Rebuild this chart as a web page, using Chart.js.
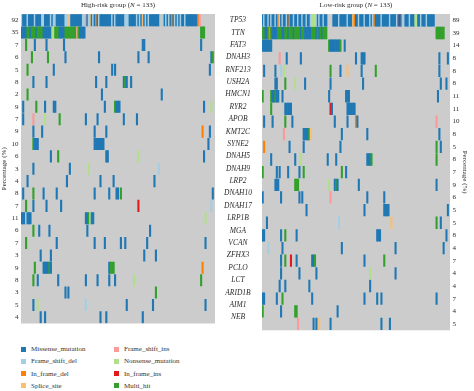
<!DOCTYPE html>
<html>
<head>
<meta charset="utf-8">
<script src="https://cdn.jsdelivr.net/npm/chart.js@4.4.0/dist/chart.umd.min.js"></script>
<style>
  body { margin: 0; background: #fff; }
  #wrap { position: relative; width: 474px; height: 391px; overflow: hidden; }
  #highChart { position: absolute; left: 0; top: 0; }
  #lowChart { position: absolute; left: 262px; top: 0; }
  #legend { position: absolute; left: 0; top: 343px; width: 260px; height: 48px; }
  .item { position: absolute; font: 7px 'Liberation Serif', serif; color: #333; white-space: nowrap; line-height: 8px; }
  .item span { position: absolute; top: 1.5px; width: 5px; height: 5px; }
</style>
</head>
<body>
<div id="wrap">
  <canvas id="highChart" width="262" height="337"></canvas>
  <canvas id="lowChart" width="212" height="337"></canvas>
  <div id="legend"></div>
</div>
<script>
// genes in oncoplot order (top to bottom)
const genes = ['TP53', 'TTN', 'FAT3', 'DNAH3', 'RNF213', 'USH2A', 'HMCN1', 'RYR2', 'APOB', 'KMT2C',
  'SYNE2', 'DNAH5', 'DNAH9', 'LRP2', 'DNAH10', 'DNAH17', 'LRP1B', 'MGA', 'VCAN', 'ZFHX3',
  'PCLO', 'LCT', 'ARID1B', 'AIM1', 'NEB'];

// mutation frequency (%) per gene
const highPct = [92, 35, 7, 6, 5, 8, 2, 9, 7, 9, 10, 6, 3, 4, 8, 7, 11, 6, 7, 3, 9, 8, 3, 5, 4];
const lowPct = [89, 39, 14, 8, 8, 8, 11, 11, 10, 8, 5, 8, 7, 9, 6, 5, 5, 8, 4, 7, 4, 4, 7, 4, 5];

const sampleCount = 133;

// mutation classes (code letter -> name / colour)
const typeCodes = ['M', 'D', 'O', 'S', 'I', 'N', 'R', 'H'];
const typeNames = ['Missense_mutation', 'Frame_shift_del', 'In_frame_del', 'Splice_site',
  'Frame_shift_ins', 'Nonsense_mutation', 'In_frame_ins', 'Multi_hit'];
const typeColors = ['#1f78b4', '#a6cee3', '#ff7f00', '#fdbf6f', '#fb9a99', '#b2df8a', '#e31a1c', '#33a02c'];

// per gene: runs of [first sample index, mutation codes for consecutive samples]
const highRisk = [
  [[0, 'DMM'], [3, 'MDMMMMDMMMM'], [14, 'DD'], [16, 'MMMMD'], [21, 'MDDM'], [25, 'MMMMM'], [30, 'DDSDM'],
   [35, 'MMMMMMMD'], [43, 'DIMDSMDMOMD'], [54, 'MMMMMMMM'], [62, 'DMDM'], [66, 'MMMMMD'], [72, 'DDM'],
   [75, 'MMMMD'], [80, 'MDMSMDMDM'], [89, 'MMMMMMD'], [96, 'SDMD'], [100, 'MDMOMD'], [106, 'MDMDMMDMM'],
   [115, 'MMMM'], [119, 'MMOI']],
  [[0, 'MMMM'], [4, 'HHMHHHMH'], [12, 'HHH'], [15, 'MMMMMM'], [21, 'NN'], [23, 'HHH'], [26, 'MMMM'],
   [30, 'HHHHHHHH'], [38, 'IH'], [40, 'MMMM'], [123, 'HHH']],
  [[3, 'H'], [9, 'M'], [17, 'M'], [29, 'M'], [83, 'MM'], [123, 'M']],
  [[7, 'H'], [18, 'H'], [30, 'M'], [53, 'M'], [80, 'M'], [87, 'M'], [130, 'M'], [131, 'H']],
  [[4, 'H'], [22, 'M'], [62, 'M'], [64, 'M'], [129, 'M']],
  [[8, 'M'], [17, 'M'], [51, 'M'], [58, 'M'], [70, 'MHM'], [75, 'M']],
  [[4, 'H'], [55, 'M'], [96, 'M']],
  [[1, 'M'], [10, 'H'], [16, 'M'], [22, 'MM'], [57, 'M'], [64, 'HMMM'], [125, 'M'], [130, 'N']],
  [[1, 'M'], [8, 'I'], [16, 'N'], [26, 'H'], [44, 'M'], [52, 'M'], [70, 'M'], [79, 'M']],
  [[8, 'M'], [14, 'M'], [50, 'M'], [58, 'M'], [124, 'O'], [129, 'M']],
  [[8, 'HMMM'], [50, 'MMMMMMM'], [128, 'M']],
  [[20, 'M'], [25, 'H'], [58, 'MM'], [80, 'N'], [125, 'M']],
  [[8, 'M'], [33, 'M'], [46, 'N'], [94, 'D']],
  [[4, 'M'], [31, 'M'], [54, 'M'], [63, 'M'], [91, 'M']],
  [[1, 'M'], [8, 'H'], [15, 'M'], [24, 'M'], [50, 'M'], [60, 'M'], [65, 'MM'], [68, 'H'], [131, 'M']],
  [[3, 'H'], [8, 'M'], [17, 'M'], [27, 'M'], [80, 'R'], [130, 'D']],
  [[0, 'MMMDMMM'], [44, 'MMHNMM'], [126, 'N']],
  [[8, 'H'], [12, 'M'], [19, 'M'], [45, 'M'], [88, 'M']],
  [[3, 'H'], [24, 'M'], [50, 'M'], [57, 'M'], [68, 'M'], [71, 'M'], [86, 'M'], [126, 'M']],
  [[13, 'M'], [20, 'M'], [84, 'M'], [92, 'M']],
  [[9, 'H'], [15, 'MMMMHM'], [60, 'MHHH'], [124, 'O']],
  [[8, 'H'], [11, 'M'], [25, 'M'], [44, 'M'], [52, 'M'], [60, 'M'], [64, 'M'], [77, 'N'], [123, 'H']],
  [[30, 'M'], [32, 'M'], [92, 'H']],
  [[8, 'M'], [11, 'N'], [44, 'D'], [72, 'M'], [90, 'M'], [126, 'M']],
  [[13, 'M'], [16, 'M'], [54, 'M'], [58, 'M'], [83, 'M']]
];

const lowRisk = [
  [[0, 'MDMMDMDMMD'], [10, 'MODMDMMDMO'], [20, 'MMDMMDMMDM'], [30, 'MDMMDNNNDM'], [40, 'DMMDMM'],
   [50, 'MMMMDMMMMM'], [60, 'DMMMSOMMDM'], [70, 'MMDMMMDMDO'], [80, 'MMMMDMMMMM'], [90, 'DMMMMDMRMD'],
   [100, 'DMMMDMMMNN'], [110, 'MMDMMMDMMMMM']],
  [[0, 'HH'], [2, 'MM'], [4, 'HOH'], [7, 'MMMM'], [11, 'HHH'], [14, 'MM'], [16, 'HHMHHHMHHHHMHH'],
   [30, 'MMMMM'], [35, 'HHH'], [38, 'MHMHM'], [43, 'HHH'], [123, 'HHHHHH']],
  [[0, 'MMMMMMM'], [47, 'HMMMMMMMH'], [58, 'M']],
  [[12, 'I'], [17, 'M'], [27, 'M'], [66, 'M'], [70, 'MMM'], [125, 'M'], [131, 'M']],
  [[1, 'M'], [9, 'M'], [13, 'D'], [15, 'N'], [48, 'H'], [55, 'M'], [60, 'S'], [70, 'M'], [80, 'H'], [125, 'M']],
  [[9, 'MM'], [16, 'H'], [23, 'N'], [30, 'M'], [48, 'M'], [71, 'M'], [126, 'M'], [130, 'M']],
  [[0, 'H'], [6, 'HMMHMM'], [14, 'M'], [47, 'M'], [59, 'MMM'], [124, 'M']],
  [[6, 'H'], [16, 'MMMMM'], [48, 'RM'], [60, 'MMMMMM']],
  [[1, 'M'], [7, 'M'], [16, 'H'], [21, 'M'], [51, 'M'], [60, 'M'], [66, 'OM'], [123, 'I']],
  [[15, 'I'], [29, 'MMMMHS'], [56, 'M'], [74, 'M'], [125, 'M']],
  [[1, 'O'], [19, 'M'], [29, 'M'], [55, 'M'], [123, 'H'], [126, 'M']],
  [[6, 'M'], [23, 'M'], [27, 'N'], [46, 'M'], [52, 'M'], [74, 'MMMH'], [123, 'H']],
  [[0, 'H'], [10, 'M'], [12, 'M'], [18, 'M'], [26, 'M'], [29, 'H'], [56, 'H'], [59, 'M']],
  [[9, 'MMM'], [23, 'HHH'], [47, 'N'], [51, 'MHM'], [68, 'M'], [123, 'M']],
  [[0, 'M'], [13, 'M'], [26, 'M'], [28, 'M'], [48, 'I'], [74, 'M'], [86, 'M']],
  [[31, 'M'], [72, 'M'], [86, 'MMMM'], [131, 'M']],
  [[3, 'M'], [54, 'D'], [91, 'S'], [123, 'H'], [126, 'M']],
  [[0, 'MM'], [13, 'M'], [16, 'H'], [24, 'M'], [81, 'MMM'], [130, 'M']],
  [[4, 'D'], [14, 'M'], [56, 'M'], [94, 'M'], [128, 'M']],
  [[13, 'M'], [16, 'H'], [20, 'R'], [24, 'M'], [35, 'MMH'], [72, 'M'], [86, 'H']],
  [[13, 'M'], [26, 'M'], [38, 'M'], [76, 'N'], [94, 'M']],
  [[12, 'M'], [16, 'M'], [33, 'M'], [76, 'M']],
  [[0, 'MM'], [10, 'M'], [14, 'H'], [35, 'M'], [72, 'M'], [81, 'M'], [84, 'M'], [123, 'M']],
  [[0, 'H'], [13, 'M'], [23, 'HH'], [53, 'M']],
  [[25, 'I'], [36, 'M'], [38, 'M'], [40, 'S'], [48, 'M'], [84, 'M'], [90, 'M']]
];

const serif = "'Liberation Serif', 'Times New Roman', serif";
const textColor = '#2b2b2b';

function colorOf(code) {
  return typeColors[typeCodes.indexOf(code)];
}

// grey background for each panel
const panelBg = {
  id: 'panelBg',
  beforeDatasetsDraw(chart) {
    const {ctx, chartArea: a} = chart;
    ctx.save();
    ctx.fillStyle = '#cccccc';
    ctx.fillRect(a.left, a.top, a.right - a.left, a.bottom - a.top);
    ctx.restore();
  }
};

// "xxx group (N = 133)" title centred over the plot area
const panelTitle = {
  id: 'panelTitle',
  afterDraw(chart, args, opts) {
    const {ctx, chartArea: a} = chart;
    const parts = [[opts.text + ' (', 'normal'], ['N', 'italic'], [' = ' + sampleCount + ')', 'normal']];
    ctx.save();
    ctx.fillStyle = textColor;
    ctx.textBaseline = 'middle';
    let total = 0;
    parts.forEach(p => { ctx.font = p[1] + ' 7px ' + serif; p.push(ctx.measureText(p[0]).width); total += p[2]; });
    let x = (a.left + a.right) / 2 - total / 2;
    parts.forEach(p => { ctx.font = p[1] + ' 7px ' + serif; ctx.fillText(p[0], x, 5.5); x += p[2]; });
    ctx.restore();
  }
};

function buildDatasets(rows) {
  return rows.map((runs, g) => {
    const data = [];
    runs.forEach(([start, codes]) => {
      [...codes].forEach((c, k) => data.push({x: start + k, y: [g - 0.46, g + 0.46], t: c}));
    });
    return {
      label: genes[g],
      data: data,
      grouped: false,
      barPercentage: 1,
      categoryPercentage: 1,
      borderWidth: 0,
      backgroundColor: ctx => (ctx.raw ? colorOf(ctx.raw.t) : '#1f78b4')
    };
  });
}

function rowAxis(position, labels, extra) {
  return Object.assign({
    type: 'linear',
    position: position,
    min: -0.5,
    max: 24.5,
    reverse: true,
    grid: {display: false, drawTicks: false},
    border: {display: false},
    afterBuildTicks: scale => { scale.ticks = genes.map((_, i) => ({value: i})); },
    ticks: {
      autoSkip: false,
      color: textColor,
      font: {family: serif, size: 7},
      callback: v => labels[v]
    }
  }, extra);
}

const sampleLabels = Array.from({length: sampleCount}, (_, i) => i);

function baseOptions(title, scales) {
  return {
    responsive: false,
    animation: false,
    layout: {padding: {top: 14, bottom: 0.7, left: 0, right: 0}},
    plugins: {legend: {display: false}, tooltip: {enabled: false}, panelTitle: {text: title}},
    scales: Object.assign({
      x: {type: 'category', display: false, offset: true}
    }, scales)
  };
}

const pctTitle = {display: true, text: 'Percentage (%)', color: textColor, font: {family: serif, size: 7}};

new Chart(document.getElementById('highChart'), {
  type: 'bar',
  data: {labels: sampleLabels, datasets: buildDatasets(highRisk)},
  options: baseOptions('High-risk group', {
    y: rowAxis('left', highPct, {
      afterFit: s => { s.width = 21; },
      title: Object.assign({padding: {top: 0, bottom: 0}}, pctTitle),
      ticks: {autoSkip: false, padding: 2.5, color: textColor, font: {family: serif, size: 7}, callback: v => highPct[v]}
    }),
    genes: rowAxis('right', genes, {
      afterFit: s => { s.width = 47; },
      ticks: {autoSkip: false, padding: 9, crossAlign: 'center', color: textColor,
        font: {family: serif, size: 7.5, style: 'italic'}, callback: v => genes[v]}
    })
  }),
  plugins: [panelBg, panelTitle]
});

new Chart(document.getElementById('lowChart'), {
  type: 'bar',
  data: {labels: sampleLabels, datasets: buildDatasets(lowRisk)},
  options: baseOptions('Low-risk group', {
    y: rowAxis('right', lowPct, {
      afterFit: s => { s.width = 24; },
      title: Object.assign({padding: {top: 4.5, bottom: 0}}, pctTitle),
      ticks: {autoSkip: false, padding: 2.5, color: textColor, font: {family: serif, size: 7}, callback: v => lowPct[v]}
    })
  }),
  plugins: [panelBg, panelTitle]
});

// two-column legend under the high-risk panel
const legend = document.getElementById('legend');
typeNames.forEach((name, i) => {
  const col = Math.floor(i / 4), row = i % 4;
  const el = document.createElement('div');
  el.className = 'item';
  el.style.left = (col === 0 ? 21 : 114) + 'px';
  el.style.top = (2 + row * 12.3) + 'px';
  el.innerHTML = '<span style="left:0;background:' + typeColors[i] + '"></span>' +
    '<b style="font-weight:normal;position:absolute;left:10px;top:0">' + name + '</b>';
  legend.appendChild(el);
});
</script>
</body>
</html>
